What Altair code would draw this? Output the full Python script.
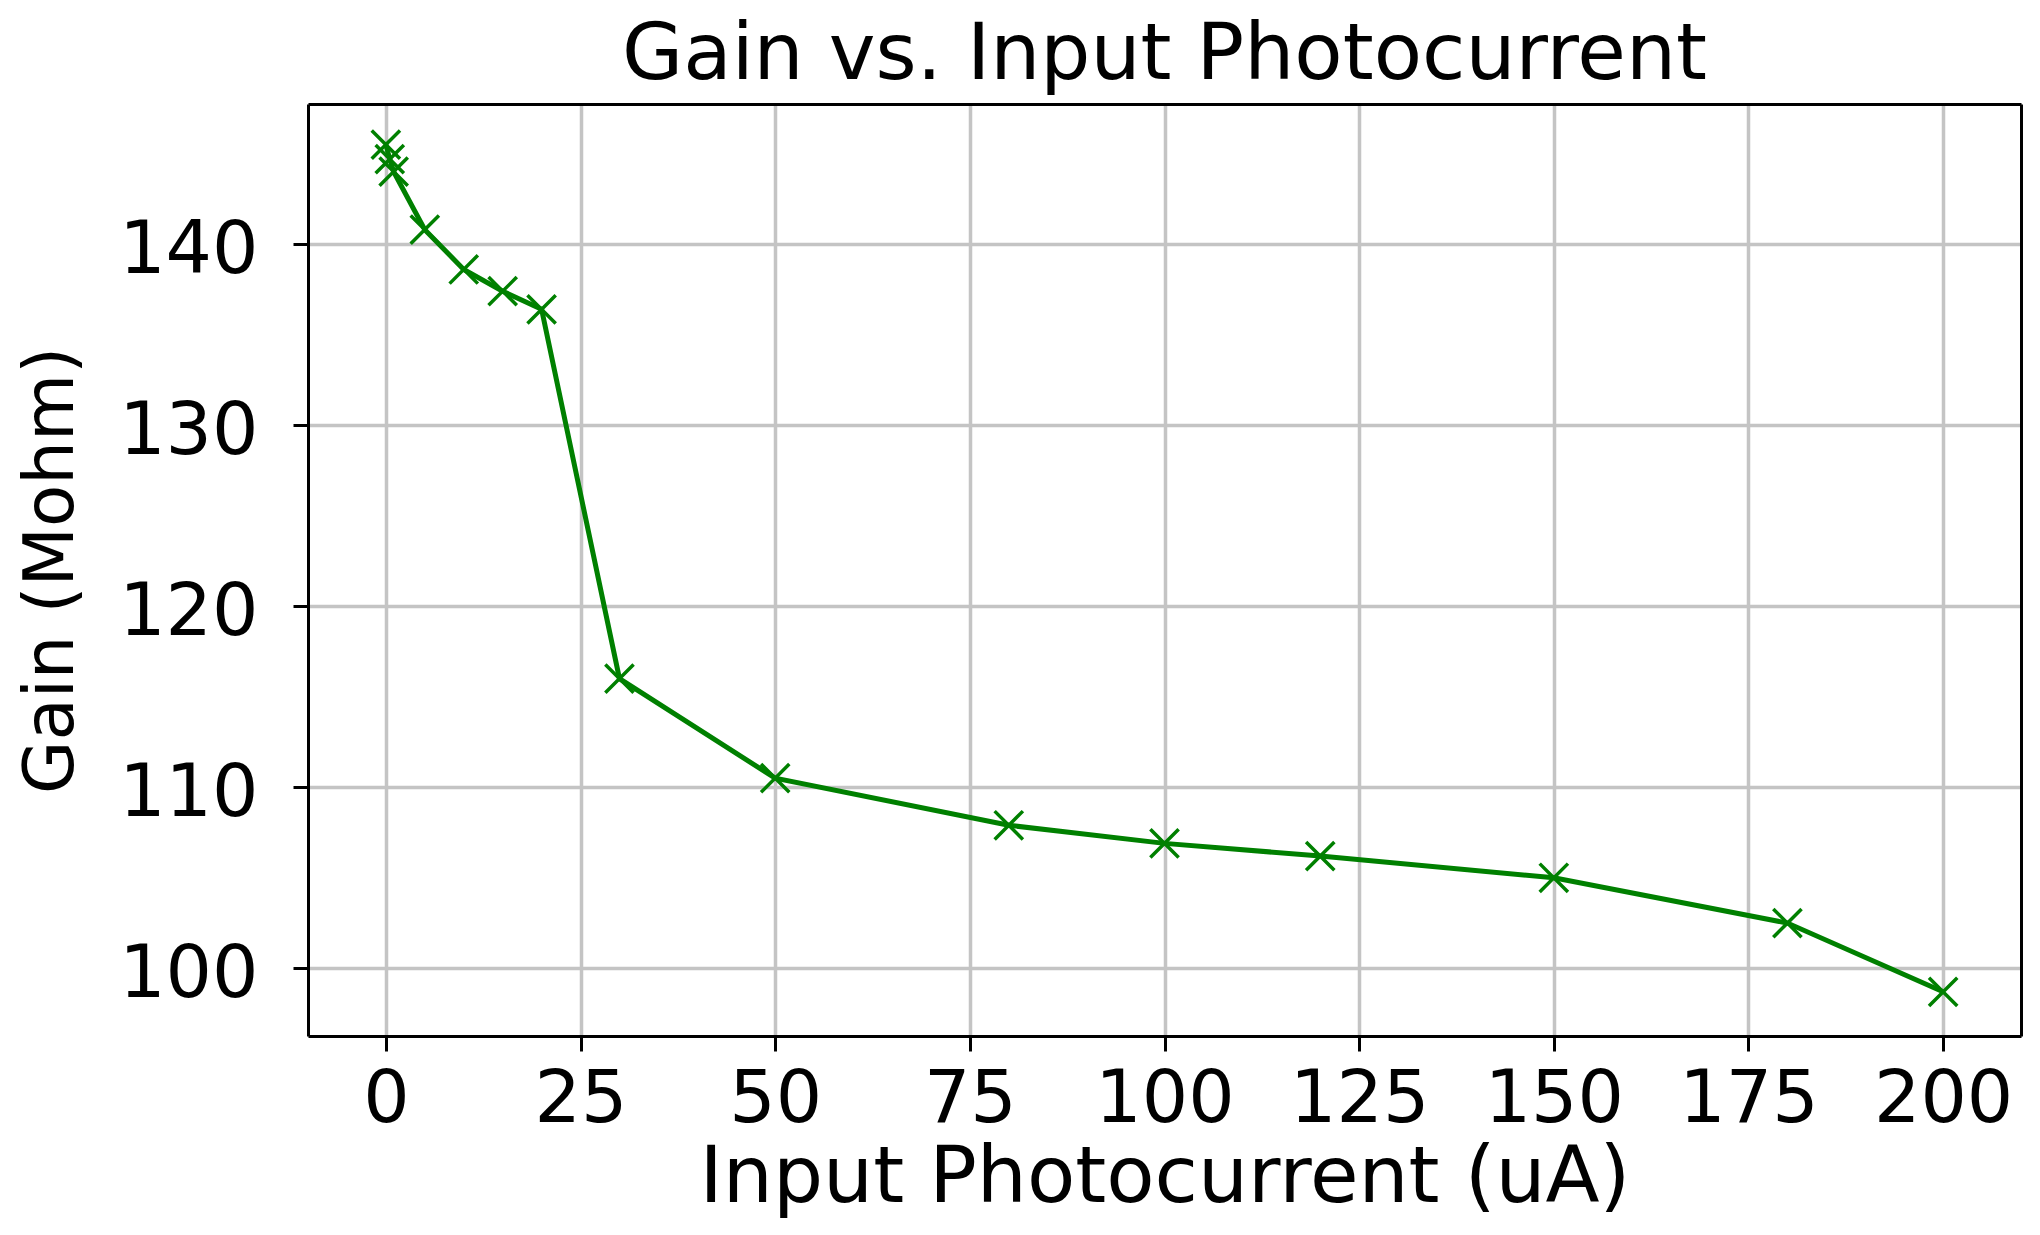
import altair as alt
import pandas as pd

# Data
current_uA = [0, 0.5, 1, 5, 10, 15, 20, 30, 50, 80, 100, 120, 150, 180, 200]
gain_Mohm = [145.5, 144.7, 144.0, 140.8, 138.6, 137.4, 136.4, 116.0, 110.5,
             107.9, 106.9, 106.2, 105.0, 102.5, 98.7]
x_ticks = [0, 25, 50, 75, 100, 125, 150, 175, 200]
y_ticks = [100, 110, 120, 130, 140]

df = pd.DataFrame({"current": current_uA, "gain": gain_Mohm})

FONT = "DejaVu Sans"
GREEN = "#008000"
X_SCALE = alt.Scale(domain=[-10, 210], nice=False, zero=False)
Y_SCALE = alt.Scale(domain=[96.26, 147.74], nice=False, zero=False)

x_enc = alt.X(
    "current:Q",
    scale=X_SCALE,
    axis=alt.Axis(
        values=x_ticks,
        title="Input Photocurrent (uA)",
        titleFontSize=79,
        titleFont=FONT,
        titleFontWeight="normal",
        titleColor="black",
        titleBaseline="alphabetic",
        titleY=165,
        labelFontSize=73,
        labelFont=FONT,
        labelColor="black",
        labelPadding=12,
        tickSize=15,
        tickWidth=3,
        tickColor="black",
        domain=True,
        domainColor="black",
        domainWidth=3,
        grid=True,
        gridColor="#c4c4c4",
        gridWidth=3.5,
        labelFlush=False,
    ),
)
y_enc = alt.Y(
    "gain:Q",
    scale=Y_SCALE,
    axis=alt.Axis(
        values=y_ticks,
        title="Gain (Mohm)",
        titleFontSize=69,
        titleFont=FONT,
        titleFontWeight="normal",
        titleColor="black",
        titleBaseline="alphabetic",
        titleX=-236,
        labelFontSize=73,
        labelFont=FONT,
        labelColor="black",
        labelPadding=35,
        labelOffset=6,
        tickSize=15,
        tickWidth=3,
        tickColor="black",
        domain=True,
        domainColor="black",
        domainWidth=3,
        grid=True,
        gridColor="#c4c4c4",
        gridWidth=3.5,
        labelFlush=False,
    ),
)

line = alt.Chart(df).mark_line(color=GREEN, strokeWidth=5).encode(
    x=x_enc, y=y_enc, order="current:Q"
)
points = alt.Chart(df).mark_point(
    shape="M-1,-1L1,1M-1,1L1,-1",
    size=800,
    filled=False,
    color=GREEN,
    strokeWidth=3.5,
    opacity=1,
).encode(
    x=alt.X(
        "current:Q",
        scale=X_SCALE,
        axis=alt.Axis(orient="top", labels=False, ticks=False, grid=False,
                      domain=True, domainColor="black", domainWidth=3, title=None),
    ),
    y=alt.Y(
        "gain:Q",
        scale=Y_SCALE,
        axis=alt.Axis(orient="right", labels=False, ticks=False, grid=False,
                      domain=True, domainColor="black", domainWidth=3, title=None),
    ),
)

chart = (
    alt.layer(line, points)
    .resolve_axis(x="independent", y="independent")
    .properties(
        width=1713,
        height=932,
        autosize="none",
        padding={"left": 300, "top": 96, "right": 10, "bottom": 190},
        title=alt.TitleParams(
            "Gain vs. Input Photocurrent",
            font=FONT,
            fontSize=79,
            fontWeight="normal",
            color="black",
            anchor="middle",
            offset=8,
        ),
    )
    .configure_view(stroke="black", strokeWidth=3)
    .configure(background="white")
)

chart.save("out.html", embed_options={"renderer": "svg", "actions": False})
